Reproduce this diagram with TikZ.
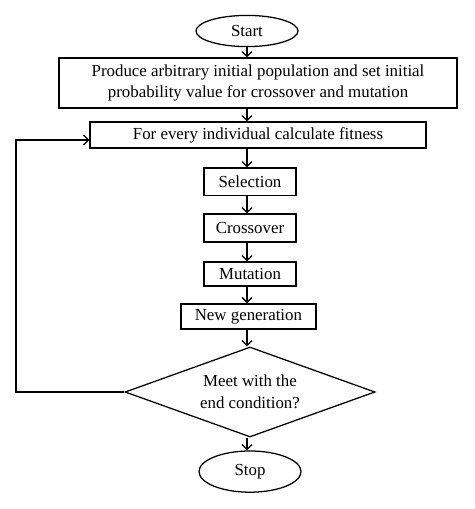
\documentclass[tikz,border=0pt]{standalone}
\usepackage{fontspec}
\setmainfont{Liberation Serif}
\usetikzlibrary{shapes.geometric,arrows.meta}

\begin{document}
\begin{tikzpicture}[
    font=\fontsize{12}{15.5}\selectfont,
    terminal/.style={ellipse, draw=black, line width=0.9pt, minimum width=2.55cm, minimum height=0.78cm, inner sep=0pt},
    process/.style={rectangle, draw=black, line width=0.9pt, minimum height=0.65cm, align=center, inner sep=2pt},
    decision/.style={diamond, draw=black, line width=0.9pt, aspect=2.78, minimum width=6.25cm, minimum height=2.25cm, inner sep=0pt, align=center},
    arrow/.style={line width=0.9pt, -{Straight Barb[length=3.5pt,width=7pt]}}
]
\useasboundingbox (0,0) rectangle (11.85,-12.725);

% Terminals
\node[terminal] (start) at (6.175,-0.775) {Start};
\node[terminal, minimum height=1.03cm] (stop) at (6.25,-11.79) {Stop};

% Process boxes
\node[process, minimum width=9.95cm, minimum height=1.25cm] (init) at (6.45,-2.075) {Produce arbitrary initial population and set initial\\probability value for crossover and mutation};
\node[process, minimum width=8.4cm] (fit) at (6.45,-3.375) {For every individual calculate fitness};
\node[process, minimum width=2.3cm, minimum height=0.68cm] (sel) at (6.25,-4.54) {Selection};
\node[process, minimum width=2.3cm, minimum height=0.7cm] (cross) at (6.25,-5.7) {Crossover};
\node[process, minimum width=2.3cm, minimum height=0.6cm] (mut) at (6.25,-6.85) {Mutation};
\node[process, minimum width=3.375cm, minimum height=0.625cm] (newgen) at (6.21,-7.91) {New generation};

% Decision
\node[decision] (cond) at (6.25,-9.8) {Meet with the\\end condition?};

% Connectors
\draw[arrow] (start.south) -- (start.south |- init.north);
\draw[arrow] (start.south |- init.south) -- (start.south |- fit.north);
\draw[arrow] (start.south |- fit.south) -- (start.south |- sel.north);
\draw[arrow] (start.south |- sel.south) -- (start.south |- cross.north);
\draw[arrow] (start.south |- cross.south) -- (start.south |- mut.north);
\draw[arrow] (start.south |- mut.south) -- (start.south |- newgen.north);
\draw[arrow] (start.south |- newgen.south) -- (start.south |- cond.north);
\draw[arrow] (start.south |- cond.south) -- (start.south |- stop.north);

% Loop back
\coordinate (back) at (0.4,-3.5);
\draw[arrow] (cond.west) -| (back) -- (back -| fit.west);

\end{tikzpicture}
\end{document}
